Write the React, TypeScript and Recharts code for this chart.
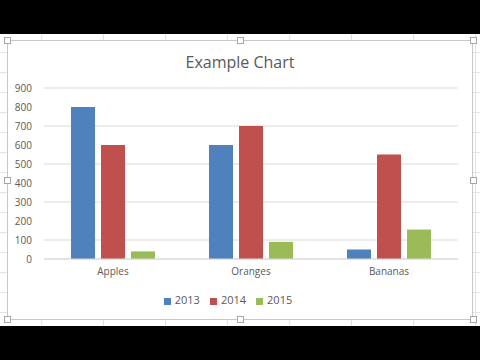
import { Bar, BarChart, CartesianGrid, Legend, XAxis, YAxis } from "recharts";

// Chart values
const categories = ["Apples", "Oranges", "Bananas"];
const series2013 = [800, 600, 50];
const series2014 = [600, 700, 550];
const series2015 = [40, 90, 155];
const yTicks = [0, 100, 200, 300, 400, 500, 600, 700, 800, 900];

const data = categories.map((name, i) => ({
  name,
  "2013": series2013[i],
  "2014": series2014[i],
  "2015": series2015[i],
}));

const textColor = "#595959";
const font = "'Open Sans', 'DejaVu Sans', sans-serif";

// selection handles around the chart frame (left/top in page pixels)
const handles = [
  [7, 40], [240, 40], [473, 40],
  [7, 180], [473, 180],
  [7, 319], [240, 319], [473, 319],
];

const App = () => {
  return (
    <div
      style={{
        position: "absolute",
        left: 0,
        top: 0,
        width: 480,
        height: 360,
        background: "#000",
        fontFamily: font,
      }}
    >
      {/* spreadsheet cells behind the chart */}
      <div
        style={{
          position: "absolute",
          left: 0,
          top: 34,
          width: 480,
          height: 292,
          backgroundColor: "#fff",
          backgroundImage:
            "repeating-linear-gradient(90deg, transparent 0 41px, #e3e3e3 41px 42px, transparent 42px 62px), repeating-linear-gradient(0deg, transparent 0 19px, #e3e3e3 19px 20px)",
          backgroundPosition: "0 0, 0 6px",
        }}
      />

      {/* chart frame */}
      <div
        style={{
          position: "absolute",
          left: 7,
          top: 40,
          width: 464,
          height: 278,
          background: "#fff",
          border: "1px solid #c8c8c8",
        }}
      >
        <div
          style={{
            position: "absolute",
            top: 10,
            width: "100%",
            textAlign: "center",
            fontSize: 16,
            color: textColor,
          }}
        >
          Example Chart
        </div>

        <BarChart
          width={464}
          height={278}
          data={data}
          margin={{ top: 47, right: 14, bottom: 21, left: 0 }}
          barCategoryGap={27}
          barGap={6}
        >
          <CartesianGrid vertical={false} stroke="#d9d9d9" />
          <XAxis
            dataKey="name"
            tickLine={false}
            axisLine={{ stroke: "#d9d9d9" }}
            tick={{ fill: textColor, fontSize: 10 }}
            tickMargin={3}
            height={24}
          />
          <YAxis
            domain={[0, 900]}
            ticks={yTicks}
            tickLine={false}
            axisLine={false}
            tick={{ fill: textColor, fontSize: 10 }}
            width={36}
            tickMargin={6}
          />
          <Legend
            iconType="square"
            iconSize={7}
            wrapperStyle={{ fontSize: 11, color: textColor, bottom: 12 }}
            formatter={(value) => <span style={{ color: textColor }}>{value}</span>}
          />
          <Bar dataKey="2013" fill="#4f81bd" isAnimationActive={false} />
          <Bar dataKey="2014" fill="#c0504d" isAnimationActive={false} />
          <Bar dataKey="2015" fill="#9bbb59" isAnimationActive={false} />
        </BarChart>
      </div>

      {handles.map(([x, y], i) => (
        <div
          key={i}
          style={{
            position: "absolute",
            left: x - 3,
            top: y - 3,
            width: 5,
            height: 5,
            background: "#fff",
            border: "1px solid #a6a6a6",
          }}
        />
      ))}
    </div>
  );
};

export default App;
